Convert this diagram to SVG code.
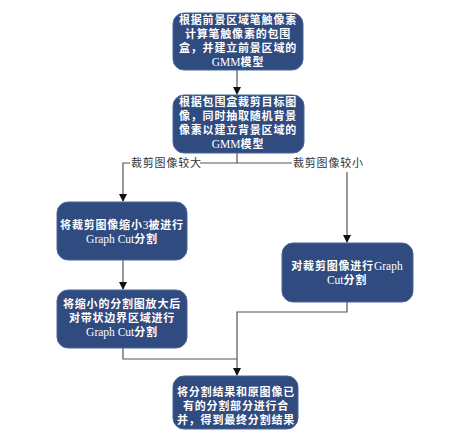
<svg xmlns="http://www.w3.org/2000/svg" width="474" height="444" viewBox="0 0 474 444">
<style>
.box{fill:#2f4b80;stroke:#4a669a;stroke-width:1}
.t{font-family:"Liberation Serif","Noto Sans CJK SC",serif;font-size:11px;fill:#ffffff;text-anchor:middle;letter-spacing:0.8px;font-weight:bold}
.l{font-weight:normal;letter-spacing:0px;font-size:11.5px}
.lbl{font-family:"Liberation Serif","Noto Sans CJK SC",serif;font-size:11px;fill:#333333;letter-spacing:0.8px}
.ln{fill:none;stroke:#555555;stroke-width:1.2}
</style>
<defs>
<marker id="ah" markerWidth="8" markerHeight="10" refX="7" refY="5" orient="auto" markerUnits="userSpaceOnUse">
<path d="M0,1 L8,5 L0,9 Z" fill="#111111"/>
</marker>
</defs>
<rect width="474" height="444" fill="#ffffff"/>
<g id="connectors">
<line class="ln" x1="237" y1="70" x2="237" y2="94" marker-end="url(#ah)"/>
<line class="ln" x1="237" y1="153" x2="237" y2="163"/>
<polyline class="ln" points="200,163 292,163"/>
<polyline class="ln" points="130,163 123,163 123,201" marker-end="url(#ah)"/>
<line class="ln" x1="347" y1="172" x2="347" y2="242" marker-end="url(#ah)"/>
<line class="ln" x1="123" y1="260" x2="123" y2="289" marker-end="url(#ah)"/>
<polyline class="ln" points="123,348 123,359 237,359"/>
<polyline class="ln" points="347,302 347,312 237,312 237,375" marker-end="url(#ah)"/>
<text class="lbl" x="131" y="167">裁剪图像较大</text>
<text class="lbl" x="293" y="167">裁剪图像较小</text>
</g>
<g id="n1">
<rect class="box" x="173" y="13" width="130" height="57" rx="11"/>
<text class="t" x="238" y="24">根据前景区域笔触像素</text>
<text class="t" x="238" y="38">计算笔触像素的包围</text>
<text class="t" x="238" y="52">盒，并建立前景区域的</text>
<text class="t" x="238" y="66"><tspan class="l">GMM</tspan>模型</text>
</g>
<g id="n2">
<rect class="box" x="173" y="95" width="131" height="58" rx="11"/>
<text class="t" x="238" y="106">根据包围盒裁剪目标图</text>
<text class="t" x="238" y="120">像，同时抽取随机背景</text>
<text class="t" x="238" y="134">像素以建立背景区域的</text>
<text class="t" x="238" y="148"><tspan class="l">GMM</tspan>模型</text>
</g>
<g id="n3">
<rect class="box" x="57" y="202" width="130" height="58" rx="11"/>
<text class="t" x="122" y="229">将裁剪图像缩小<tspan class="l">3</tspan>被进行</text>
<text class="t" x="122" y="243"><tspan class="l">Graph Cut</tspan>分割</text>
</g>
<g id="n4">
<rect class="box" x="57" y="290" width="130" height="58" rx="11"/>
<text class="t" x="122" y="308">将缩小的分割图放大后</text>
<text class="t" x="122" y="322">对带状边界区域进行</text>
<text class="t" x="122" y="336"><tspan class="l">Graph Cut</tspan>分割</text>
</g>
<g id="n5">
<rect class="box" x="282" y="243" width="131" height="59" rx="11"/>
<text class="t" x="347" y="270">对裁剪图像进行<tspan class="l">Graph</tspan></text>
<text class="t" x="347" y="284"><tspan class="l">Cut</tspan>分割</text>
</g>
<g id="n6">
<rect class="box" x="173" y="376" width="125" height="53" rx="11"/>
<text class="t" x="236" y="396">将分割结果和原图像已</text>
<text class="t" x="236" y="410">有的分割部分进行合</text>
<text class="t" x="236" y="424">并，得到最终分割结果</text>
</g>
</svg>
